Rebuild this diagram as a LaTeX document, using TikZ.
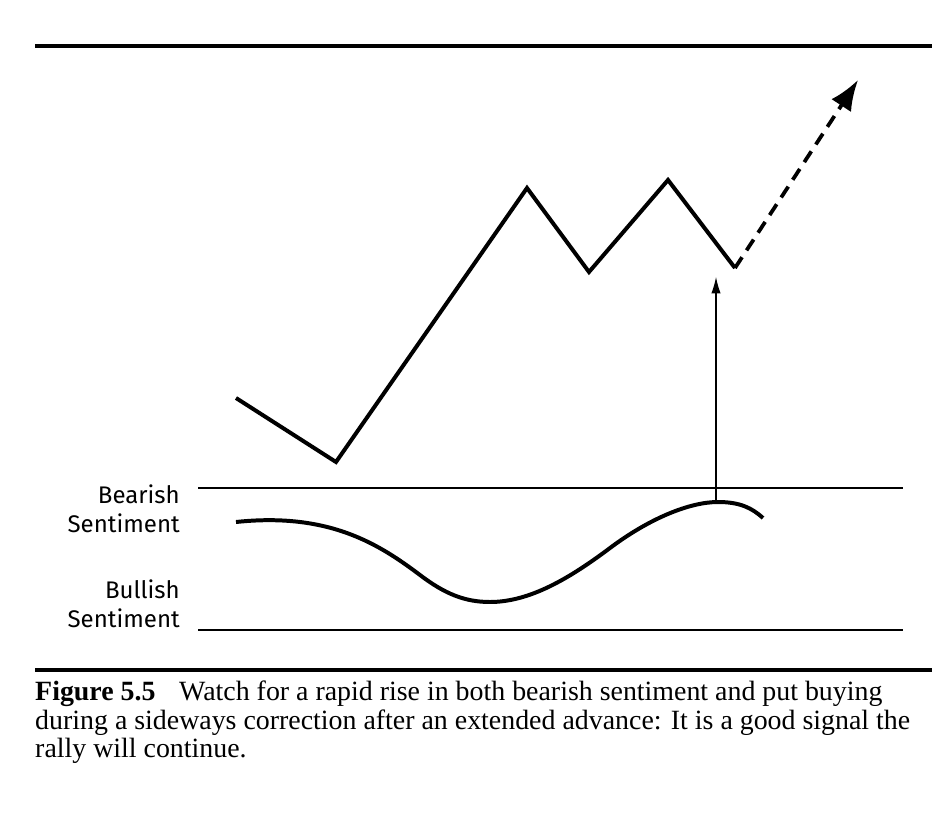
\documentclass[tikz,border=0pt]{standalone}
\usepackage{fontspec}
\setmainfont{Liberation Serif}
\setsansfont{Fira Sans}
\newfontfamily\lblfont{Fira Sans Medium}
\usetikzlibrary{arrows.meta}
\begin{document}
\begin{tikzpicture}[x=0.03cm,y=-0.03cm,
  thick line/.style={line width=3.4pt},
  thin line/.style={line width=0.9pt},
  lbl/.style={font=\sffamily\fontsize{20.5}{25}\selectfont, align=right, anchor=east, inner sep=0pt},
  captext/.style={font=\fontsize{23.8}{29}\selectfont, anchor=west, inner sep=0pt}]
\useasboundingbox (0,0) rectangle (951,816);
\coordinate (t1) at (35,46); \coordinate (t2) at (932,46);
\draw[thick line] (t1) -- (t2);
\coordinate (p1) at (236,398); \coordinate (p2) at (336,462); \coordinate (p3) at (527,188);
\coordinate (p4) at (589,272); \coordinate (p5) at (668,180); \coordinate (p6) at (735,268);
\coordinate (p7) at (858,80);
\draw[thick line, line join=miter] (p1) -- (p2) -- (p3) -- (p4) -- (p5) -- (p6);
\draw[line width=3.2pt, dash pattern=on 11pt off 7pt, -{Latex[length=26pt,width=20pt]}] (p6) -- (p7);
\coordinate (b1) at (198,488); \coordinate (b2) at (903,488);
\coordinate (c1) at (198,630); \coordinate (c2) at (903,630);
\draw[thin line] (b1) -- (b2);
\draw[thin line] (c1) -- (c2);
\coordinate (s0) at (236,522); \coordinate (smin) at (490,602); \coordinate (smax) at (718,502); \coordinate (s1) at (763,518);
\draw[line width=3.4pt] (s0) .. controls (330,512) and (380,545) .. (420,575)
  .. controls (445,594) and (465,602) .. (smin)
  .. controls (530,602) and (570,578) .. (610,548)
  .. controls (650,518) and (690,502) .. (smax)
  .. controls (740,502) and (752,508) .. (s1);
\coordinate (a0) at (716,500); \coordinate (a1) at (716,277);
\draw[thin line, -{Latex[length=14pt,width=8pt]}] (a0) -- (a1);
\node[lbl] (bear) at (180,509) {Bearish\\Sentiment};
\node[lbl] (bull) at (180,604) {Bullish\\Sentiment};
\coordinate (u1) at (35,670); \coordinate (u2) at (932,670);
\draw[line width=2.6pt] (u1) -- (u2);
\node[captext] (cap1) at (35,694) {\textbf{Figure 5.5}\hspace{0.6em} Watch for a rapid rise in both bearish sentiment and put buying};
\node[captext] (cap2) at (35,723) {during a sideways correction after an extended advance: It is a good signal the};
\node[captext] (cap3) at (35,751) {rally will continue.};
\end{tikzpicture}
\end{document}
